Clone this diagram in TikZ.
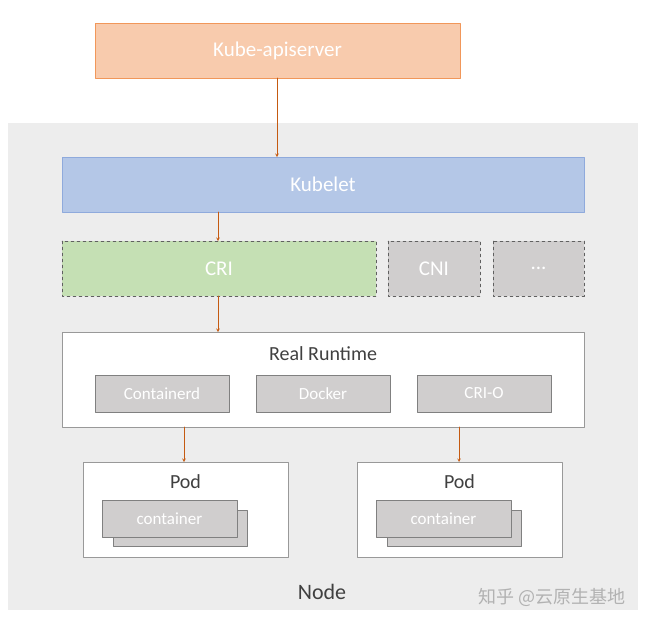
\documentclass[tikz,border=0pt]{standalone}
\usepackage{fontspec}
\setmainfont{Carlito}
\newfontfamily\cjk{Noto Sans CJK SC}
\usetikzlibrary{arrows}
\definecolor{peach}{HTML}{F8CBAD}
\definecolor{peachline}{HTML}{ED7D31}
\definecolor{kblue}{HTML}{B4C7E7}
\definecolor{kblueline}{HTML}{8FAADC}
\definecolor{kgreen}{HTML}{C5E0B4}
\definecolor{kgray}{HTML}{D0CECE}
\definecolor{bggray}{HTML}{EDEDED}
\definecolor{arrowc}{HTML}{C55A11}
\tikzset{
  lbl/.style={text=white,font=\fontsize{21}{24}\selectfont},
  small/.style={text=white,font=\fontsize{17}{20}\selectfont},
  dark/.style={text=black!75,font=\fontsize{20}{23}\selectfont},
  dashbox/.style={dashed,draw=gray!75!black},
  link/.style={->,>=stealth,color=arrowc,line width=0.6pt}
}
\begin{document}
\begin{tikzpicture}[line cap=round,line join=round,x=1pt,y=-1pt]
\useasboundingbox (0,0) rectangle (648,625);
% background of the node
\fill[bggray] (8,123) rectangle (638,610);
\draw[fill=peach,draw=peachline!80] (95,23) rectangle (460,78);
\node[lbl] (api) at (277.5,50.5) {Kube-apiserver};
\draw[fill=kblue,draw=kblueline] (62,157) rectangle (584,212);
\node[lbl] (kubelet) at (323,184.5) {Kubelet};
\draw[fill=kgreen,dashbox] (62,241) rectangle (376,296);
\node[lbl] (cri) at (219,268.5) {CRI};
\draw[fill=kgray,dashbox] (388,241) rectangle (480,296);
\node[lbl] (cni) at (434,268.5) {CNI};
\draw[fill=kgray,dashbox] (493,241) rectangle (584,296);
\node[lbl] (more) at (538.5,268.5) {...};
% real runtime
\draw[fill=white,draw=gray!80] (62,332) rectangle (584,427);
\node[dark] (rt) at (323,354) {Real Runtime};
\foreach \x/\t in {95/Containerd,256/Docker,417/CRI-O}{
  \draw[fill=kgray,draw=gray] (\x,375) rectangle ++(134,37);
  \node[small] at (\x+67,393.5) {\t};
}
% pods
\foreach \x in {83,357}{
  \draw[fill=white,draw=gray!80] (\x,462) rectangle ++(205,95);
  \node[dark] at (\x+102.5,482) {Pod};
  \draw[fill=kgray,draw=gray] (\x+30,510) rectangle ++(134,36);
  \draw[fill=kgray,draw=gray] (\x+19,500) rectangle ++(135,37);
  \node[small] at (\x+86.5,518.5) {container};
}
\node[dark,font=\fontsize{22}{25}\selectfont] (node) at (322,592) {Node};
\node[text=gray!60,font=\cjk\fontsize{18}{20}\selectfont] (wm) at (552,597) {知乎 @云原生基地};
% arrows
\coordinate (a1) at (277,78); \coordinate (b1) at (277,157);
\coordinate (a2) at (218,212); \coordinate (b2) at (218,241);
\coordinate (a3) at (218,296); \coordinate (b3) at (218,332);
\coordinate (a4) at (184,427); \coordinate (b4) at (184,462);
\coordinate (a5) at (459,427); \coordinate (b5) at (459,462);
\foreach \i in {1,...,5}
\draw[link] (a\i) -- (b\i);
\end{tikzpicture}
\end{document}
